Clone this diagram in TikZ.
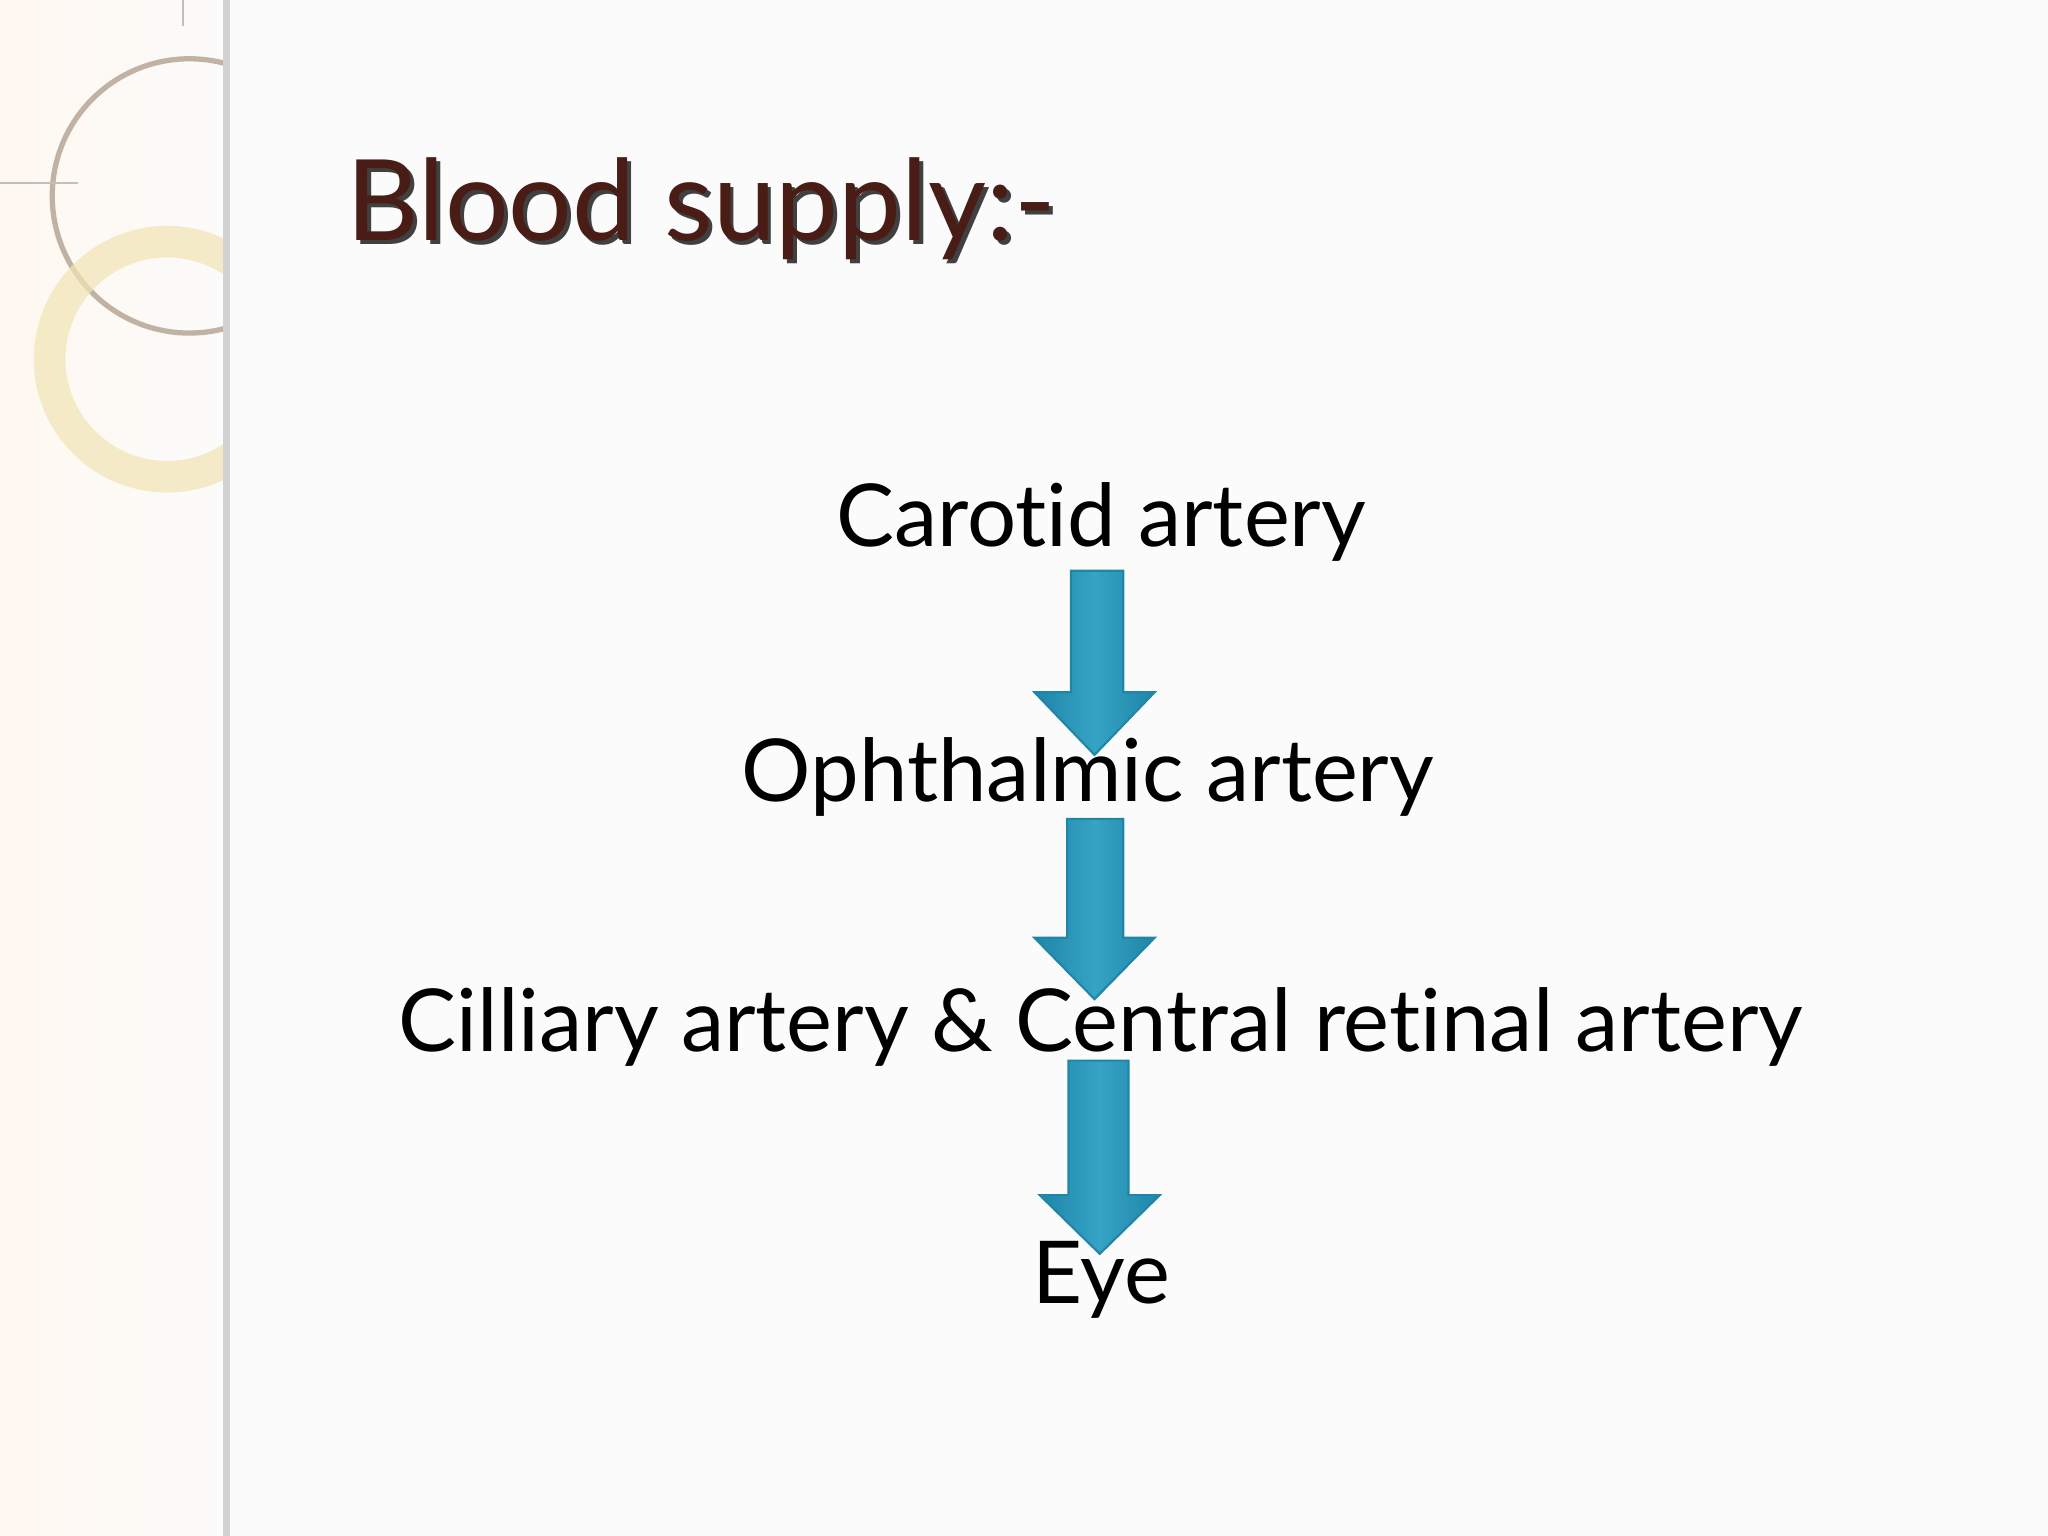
\documentclass[tikz,border=0pt]{standalone}
\usepackage{fontspec}
\setmainfont[Ligatures=NoCommon]{Lato}
\definecolor{arrowc}{HTML}{35A3C4}
\definecolor{arrowd}{HTML}{1F86A8}
\definecolor{titlec}{HTML}{4A1C16}
\begin{document}
\begin{tikzpicture}[x=0.01306cm,y=-0.01306cm,
  lbl/.style={font=\fontsize{24.7}{28}\selectfont, inner sep=0pt, text=black},
  flow/.style={draw=arrowd, line width=0.6pt, left color=arrowd, right color=arrowd, middle color=arrowc}]
\useasboundingbox (0,0) rectangle (1568,1176);
\fill[white!97!gray] (0,0) rectangle (1568,1176);
\shade[left color=yellow!8!orange!6, right color=white!97!gray] (0,0) rectangle (172,1176);
\begin{scope}
\clip (0,0) rectangle (172,1176);
\draw[brown!40!gray!60, line width=1.5pt] (145,150) circle (105);
\draw[yellow!40!brown!35, line width=9pt, opacity=0.7] (128,275) circle (90);
\draw[gray!50] (0,140) -- (60,140) (140,0) -- (140,20);
\end{scope}
\fill[gray!35] (171,0) rectangle (176,1176);
\node[anchor=base west, inner sep=0pt, text=black!75, font=\fontsize{32}{36}\selectfont] at (268,187) {Blood supply:-};
\node[anchor=base west, inner sep=0pt, text=titlec, font=\fontsize{32}{36}\selectfont] (title) at (265,184) {Blood supply:-};
\node[lbl] (c) at (843,400) {Carotid artery};
\node[lbl] (o) at (833,595) {Ophthalmic artery};
\node[lbl] (ci) at (843,786) {Cilliary artery \& Central retinal artery};
\node[lbl] (e) at (843,980) {Eye};
\draw[flow] (820,437) -- (860,437) -- (860,530) -- (884,530) -- (838,578) -- (792,530) -- (820,530) -- cycle;
\draw[flow] (817,627) -- (860,627) -- (860,718) -- (884,718) -- (838,765) -- (792,718) -- (817,718) -- cycle;
\draw[flow] (818,812) -- (864,812) -- (864,915) -- (888,915) -- (842,960) -- (796,915) -- (818,915) -- cycle;
\end{tikzpicture}
\end{document}
